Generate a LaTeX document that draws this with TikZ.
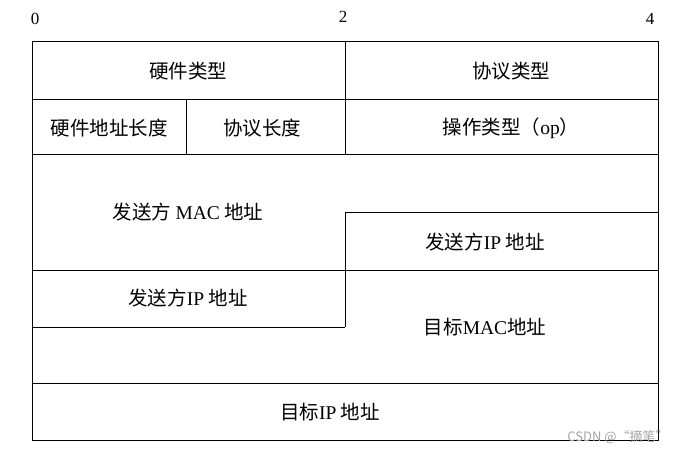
\documentclass[tikz,border=0pt]{standalone}
\usepackage{fontspec}
\setmainfont{Liberation Serif}
\newfontfamily\cjk{Noto Sans CJK SC}
\begin{document}
\begin{tikzpicture}[x=1pt,y=-1pt,line width=1pt,
  lbl/.style={font=\cjk\fontsize{19.5}{22}\selectfont, inner sep=0pt}]
\useasboundingbox (0,0) rectangle (692,454);
\fill[white] (0,0) rectangle (692,454);
\draw (32,42) rectangle (658,440);
\draw (32,100) -- (658,100);
\draw (32,155) -- (658,155);
\draw (345,42) -- (345,155);
\draw (186,100) -- (186,155);
\draw (345,212) -- (658,212);
\draw (345,212) -- (345,327);
\draw (32,270) -- (345,270);
\draw (345,270) -- (658,270);
\draw (32,327) -- (345,327);
\draw (32,383) -- (658,383);
\node[font=\fontsize{17}{19}\selectfont] (n0) at (35,19) {0};
\node[font=\fontsize{17}{19}\selectfont] (n2) at (343,17) {2};
\node[font=\fontsize{17}{19}\selectfont] (n4) at (650,19) {4};
\node[lbl] (a) at (188,71) {硬件类型};
\node[lbl] (b) at (511,71) {协议类型};
\node[lbl] (c) at (109,128) {硬件地址长度};
\node[lbl] (d) at (262,128) {协议长度};
\node[lbl] (e) at (511,128) {操作类型（{\rmfamily op}）};
\node[lbl] (f) at (188,212) {发送方 {\rmfamily MAC} 地址};
\node[lbl] (g) at (485,242) {发送方{\rmfamily IP} 地址};
\node[lbl] (h) at (188,298) {发送方{\rmfamily IP} 地址};
\node[lbl] (i) at (485,327) {目标{\rmfamily MAC}地址};
\node[lbl] (j) at (330,412) {目标{\rmfamily IP} 地址};
\node[font=\cjk\fontsize{13}{15}\selectfont, text=gray!70, inner sep=0pt] (w) at (618,437) {CSDN @“摘笔”};
\end{tikzpicture}
\end{document}
